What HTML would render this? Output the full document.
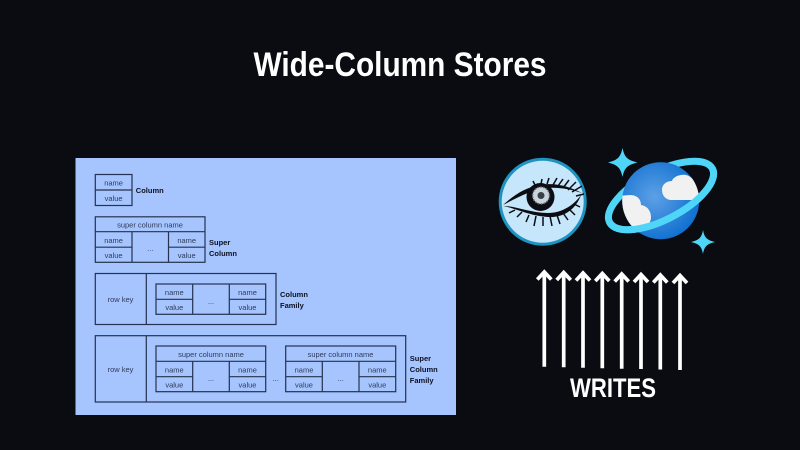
<!DOCTYPE html>
<html><head><meta charset="utf-8">
<style>html,body{margin:0;padding:0;background:#0a0c12}svg{display:block}</style></head>
<body>
<svg xmlns="http://www.w3.org/2000/svg" width="800" height="450" viewBox="0 0 800 450">
<defs>
<radialGradient id="pl" cx="0.42" cy="0.45" r="0.6"><stop offset="0" stop-color="#5ea0e6"/><stop offset="1" stop-color="#0f6fcf"/></radialGradient>
<clipPath id="pc"><circle cx="660.7" cy="200.7" r="38.5"/></clipPath>
</defs>
<rect width="800" height="450" fill="#0a0c12"/>
<text x="400" y="76" text-anchor="middle" font-family="Liberation Sans, sans-serif" font-weight="700" font-size="34" fill="#fff" textLength="293" lengthAdjust="spacingAndGlyphs">Wide-Column Stores</text>

<rect x="75.5" y="158" width="380.5" height="257" fill="#a6c4fe"/>
<g fill="none" stroke="#26324f" stroke-width="1.2">
<rect x="95.3" y="174.5" width="36.7" height="31"/><path d="M95.3 190H132"/>
<rect x="95.3" y="216.8" width="109.7" height="45.5"/><path d="M95.3 231.7H205M95.3 247.2H132M168.5 247.2H205M132 231.7V262.3M168.5 231.7V262.3"/>
<rect x="95.3" y="273.5" width="180.7" height="51"/><path d="M146.3 273.5V324.5"/>
<rect x="156" y="284" width="109.7" height="30.3"/><path d="M156 299.3H192.7M229.3 299.3H265.7M192.7 284V314.3M229.3 284V314.3"/>
<rect x="95.3" y="335.7" width="310.4" height="66.3"/><path d="M146.3 335.7V402"/>
<rect x="156" y="346" width="109.7" height="45.7"/><path d="M156 361.3H265.7M156 376.7H192.7M229.3 376.7H265.7M192.7 361.3V391.7M229.3 361.3V391.7"/>
<rect x="285.7" y="346" width="110" height="45.7"/><path d="M285.7 361.3H395.7M285.7 376.7H322.3M359 376.7H395.7M322.3 361.3V391.7M359 361.3V391.7"/>
</g>
<g font-family="Liberation Sans, sans-serif" font-size="7.5" fill="#2f3b58" text-anchor="middle">
<text x="113.6" y="185.5">name</text><text x="113.6" y="201">value</text>
<text x="150" y="227.3">super column name</text>
<text x="113.6" y="243">name</text><text x="113.6" y="258">value</text><text x="150.3" y="251">...</text><text x="186.7" y="243">name</text><text x="186.7" y="258">value</text>
<text x="120.5" y="302">row key</text>
<text x="174.3" y="295">name</text><text x="174.3" y="310">value</text><text x="211" y="304">...</text><text x="247.5" y="295">name</text><text x="247.5" y="310">value</text>
<text x="120.5" y="372">row key</text>
<text x="211" y="357">super column name</text>
<text x="174.3" y="372.5">name</text><text x="174.3" y="387.5">value</text><text x="211" y="381">...</text><text x="247.5" y="372.5">name</text><text x="247.5" y="387.5">value</text>
<text x="275.7" y="381">...</text>
<text x="340.5" y="357">super column name</text>
<text x="304" y="372.5">name</text><text x="304" y="387.5">value</text><text x="340.7" y="381">...</text><text x="377.3" y="372.5">name</text><text x="377.3" y="387.5">value</text>
</g>
<g font-family="Liberation Sans, sans-serif" font-size="7.5" font-weight="700" fill="#0c1120">
<text x="135.8" y="193">Column</text>
<text x="209" y="245">Super</text><text x="209" y="256">Column</text>
<text x="280" y="297">Column</text><text x="280" y="308">Family</text>
<text x="409.8" y="361">Super</text><text x="409.8" y="372">Column</text><text x="409.8" y="383">Family</text>
</g>

<circle cx="542.7" cy="201.7" r="42.5" fill="#c5e6fb" stroke="#1e93c0" stroke-width="3"/>
<path d="M503 205C515 194 527 187 540 185C556 182 570 187 582 193C570 189 558 187 546 188C532 190 518 197 503 205Z" fill="#0b0d12"/>
<path d="M503 206C516 206 530 213 548 213C562 213 574 205 581 195C576 209 564 218 548 217C530 216 518 209 503 206Z" fill="#0b0d12"/>
<circle cx="540.5" cy="197" r="14" fill="#0b0d12"/><circle cx="541" cy="195.5" r="8.5" fill="#c9d3da" stroke="#5b6670" stroke-width="1.5" stroke-dasharray="1.5 1.5"/><circle cx="541" cy="195.5" r="3.5" fill="#3a4048"/>
<path d="M535 185l-2-4M541 184l1-5M547 184l2-6M553 185l4-7M558 186l5-7M563 188l6-8M568 190l8-8M572 192l10-6M576 196l8-2M574 204l6 3M569 209l6 6M563 213l5 7M557 215l3 9M550 216l2 10M543 217l0 9M536 216l-2 10M529 215l-3 7M522 212l-5 5M515 210l-6 3" stroke="#0b0d12" stroke-width="1.5" fill="none"/>

<ellipse cx="661" cy="195.5" rx="58" ry="24" fill="none" stroke="#4fd5f7" stroke-width="7" transform="rotate(-27.6 661 195.5)"/>
<circle cx="660.7" cy="200.7" r="38.5" fill="url(#pl)"/>
<g clip-path="url(#pc)" fill="#f1f1f1">
<path d="M662 190C662 184 667 181 672 181C673 177 680 174 686 175C692 176 700 185 700 200L670 200C665 199 662 195 662 190Z"/>
<path d="M618 196L630 195C638 195 641 200 641 205C648 206 651 212 651 217C651 224 646 227 641 227L618 232Z"/>
</g>
<path d="M609.6 222.4A58 24 -27.6 0 0 712.4 168.6" fill="none" stroke="#4fd5f7" stroke-width="7"/>
<path d="M622.5 148C624.5 157 627 160 637.5 162.5C627 165 624.5 168 622.5 177C620.5 168 618 165 608 162.5C618 160 620.5 157 622.5 148Z" fill="#4fd5f7"/>
<path d="M703 230C704.5 238 707 240 715 242C707 244 704.5 246 703 254C701.5 246 699 244 691 242C699 240 701.5 238 703 230Z" fill="#4fd5f7"/>

<g stroke="#fff" fill="none" stroke-width="3.7">
<path d="M544.3 366.7V272M537.3 279.5L544.3 272L551.3 279.5"/>
<path d="M563.7 367.2V272.5M556.7 280L563.7 272.5L570.7 280"/>
<path d="M583 367.7V273M576 280.5L583 273L590 280.5"/>
<path d="M602.3 368.2V273.5M595.3 281L602.3 273.5L609.3 281"/>
<path d="M621.7 368.7V274M614.7 281.5L621.7 274L628.7 281.5"/>
<path d="M641 369V274.5M634 282L641 274.5L648 282"/>
<path d="M660.3 369.5V275M653.3 282.5L660.3 275L667.3 282.5"/>
<path d="M680 370V275.5M673 283L680 275.5L687 283"/>
</g>
<text x="613" y="397" text-anchor="middle" font-family="Liberation Sans, sans-serif" font-weight="700" font-size="27" fill="#fff" textLength="86" lengthAdjust="spacingAndGlyphs">WRITES</text>
</svg>
</body></html>
